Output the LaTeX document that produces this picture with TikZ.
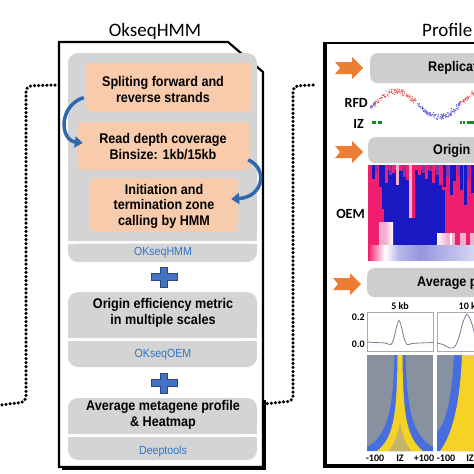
\documentclass[tikz,border=0pt]{standalone}
\usepackage{fontspec}
\setmainfont{Liberation Sans}
\newfontfamily\bxf[FakeStretch=0.9]{Liberation Sans}
\newfontfamily\calf{Carlito}
\usetikzlibrary{arrows.meta,calc}
\definecolor{boxgrey}{RGB}{212,212,212}
\definecolor{hdrgrey}{RGB}{206,206,206}
\definecolor{peach}{RGB}{248,203,173}
\definecolor{lblue}{RGB}{46,117,200}
\definecolor{arrblue}{RGB}{46,105,175}
\definecolor{plusfill}{RGB}{68,114,196}
\definecolor{plusedge}{RGB}{40,70,130}
\definecolor{orarrow}{RGB}{236,125,50}
\definecolor{rfdred}{RGB}{225,70,70}
\definecolor{rfdblue}{RGB}{70,70,205}
\definecolor{izgreen}{RGB}{20,140,40}
\definecolor{OB}{RGB}{25,25,195}
\definecolor{OP}{RGB}{240,30,110}
\definecolor{OU}{RGB}{130,50,175}
\definecolor{OL}{RGB}{245,175,205}
\definecolor{OV}{RGB}{185,185,235}
\definecolor{OM}{RGB}{150,150,225}
\definecolor{hmgrey}{RGB}{135,145,160}
\definecolor{hmblue}{RGB}{70,110,225}
\definecolor{hmyellow}{RGB}{245,210,35}
\definecolor{hmmix}{RGB}{195,180,105}
\definecolor{plotline}{RGB}{120,125,145}
\definecolor{plotframe}{RGB}{165,170,180}
\begin{document}
\begin{tikzpicture}[x=1pt,y=-1pt,
  boxtxt/.style={font=\bxf\bfseries\fontsize{14}{16}\selectfont, align=center, inner sep=0pt},
  bluetxt/.style={font=\bxf\fontsize{11.8}{13}\selectfont, text=lblue, inner sep=0pt},
  hdrtxt/.style={font=\bxf\bfseries\fontsize{14}{16}\selectfont, inner sep=0pt, anchor=west},
  lbl/.style={font=\calf\bfseries\fontsize{14}{16}\selectfont, inner sep=0pt, anchor=east},
  small/.style={font=\calf\bfseries\fontsize{10}{12}\selectfont, inner sep=0pt},
  orbox/.style={fill=peach, rounded corners=5pt, inner sep=0pt},
  hdr/.style={fill=hdrgrey, rounded corners=7pt, inner sep=0pt, anchor=north west},
  dotline/.style={line width=3.5pt, dash pattern=on 0pt off 4.1pt, line cap=round, rounded corners=5pt},
  curvarrow/.style={arrblue, line width=3.5pt, -{Triangle[length=8pt,width=11pt]}},
  orarr/.pic={\fill[orarrow] (0,-6) -- (17,-6) -- (17,-11) -- (28,0) -- (17,11) -- (17,6) -- (0,6) -- (5,0) -- cycle;},
  plussign/.pic={\filldraw[fill=plusfill, draw=plusedge, line width=0.8pt] (-3.4,-10) -- (3.4,-10) -- (3.4,-3.4) -- (13,-3.4) -- (13,3.4) -- (3.4,3.4) -- (3.4,10) -- (-3.4,10) -- (-3.4,3.4) -- (-13,3.4) -- (-13,-3.4) -- (-3.4,-3.4) -- cycle;}
]
\useasboundingbox (0,0) rectangle (474,474);
\clip (0,0) rectangle (474,474);

% ---------------- titles
\node[font=\calf\fontsize{19}{22}\selectfont, anchor=base, inner sep=0pt] (titleL) at (155,36) {OkseqHMM};
\node[font=\calf\fontsize{19}{22}\selectfont, anchor=base west, inner sep=0pt] (titleR) at (422,36) {Profile};

% ---------------- left panel frame
\draw[line width=1.5pt] (62,469) -- (265,469) -- (265,400);
\draw[line width=2.2pt, fill=white] (59,42) -- (228,42) -- (263,72) -- (263,467) -- (59,467) -- cycle;

% group 1
\fill[boxgrey, rounded corners=10pt] (68,53) rectangle (257,241);
\fill[boxgrey] (68,200) rectangle (257,241);
\fill[boxgrey, rounded corners=10pt] (68,243.5) rectangle (257,262);
\fill[boxgrey] (68,243.5) rectangle (257,252);
\node[bluetxt] (lab1) at (163,253) {OKseqHMM};

\node[orbox, minimum width=166pt, minimum height=49pt] (b1) at (169,87.5) {};
\node[boxtxt] (t1) at (163,89) {Spliting forward and\\reverse strands};
\node[orbox, minimum width=172pt, minimum height=48pt] (b2) at (164,146) {};
\node[boxtxt] (t2) at (163,147) {Read depth coverage\\Binsize: 1kb/15kb};
\node[orbox, minimum width=148pt, minimum height=54pt] (b3) at (164,205) {};
\node[boxtxt, font=\bxf\bfseries\fontsize{14}{15.5}\selectfont] (t3) at (164,206) {Initiation and\\termination zone\\calling by HMM};

\draw[curvarrow] ([shift={(-2,10)}]b1.west) .. controls (58,106) and (60,140) .. ([shift={(5,-3)}]b2.west);
\draw[curvarrow] ([shift={(-2,14)}]b2.east) .. controls (268,168) and (264,197) .. ([shift={(-7,-6)}]b3.east);

\pic at (164,277) {plussign};

% group 2
\fill[boxgrey, rounded corners=10pt] (68,292) rectangle (257,338);
\fill[boxgrey] (68,315) rectangle (257,338);
\fill[boxgrey, rounded corners=10pt] (68,341) rectangle (257,367);
\fill[boxgrey] (68,341) rectangle (257,352);
\node[boxtxt] (t4) at (163,313) {Origin efficiency metric\\in multiple scales};
\node[bluetxt] (lab2) at (163,355) {OKseqOEM};

\pic at (164,383) {plussign};

% group 3
\fill[boxgrey, rounded corners=10pt] (68,398) rectangle (257,434);
\fill[boxgrey] (68,416) rectangle (257,434);
\fill[boxgrey, rounded corners=10pt] (68,437) rectangle (257,460);
\fill[boxgrey] (68,437) rectangle (257,448);
\node[boxtxt] (t5) at (163,415) {Average metagene profile\\\& Heatmap};
\node[bluetxt] (lab3) at (163,451) {Deeptools};

% ---------------- dotted connectors
\coordinate (dL1) at (55,85);
\coordinate (dL2) at (0,405);
\coordinate (dR1) at (313,85);
\coordinate (dR2) at (264,404);
\draw[dotline] (dL1) -- (26,86) -- (26,402) -- (dL2);
\draw[dotline] (dR1) -- (293,86) -- (293,401) -- (dR2);

% ---------------- right panel frame
\draw[line width=2.2pt] (480,43) -- (324.5,43);
\draw[line width=4pt] (324.5,42) -- (324.5,467);
\draw[line width=3.5pt] (323,466) -- (480,466);

% headers
\node[hdr, minimum width=140pt, minimum height=30pt] (h1) at (370,53) {};
\node[hdrtxt] (h1t) at (428,68) {Replication};
\node[hdr, minimum width=140pt, minimum height=26pt] (h2) at (368,137) {};
\node[hdrtxt] (h2t) at (433,150.5) {Origin efficiency};
\node[hdr, minimum width=140pt, minimum height=29pt] (h3) at (367,268) {};
\node[hdrtxt] (h3t) at (417,283) {Average profile};

\pic at (335,68) {orarr};
\pic at (335,152) {orarr};
\pic at (333,284) {orarr};

% RFD scatter
\node[lbl] (rfd) at (368,103) {RFD};
\node[lbl] (iz) at (364,124) {IZ};
\pgfmathsetseed{12}
\foreach \i in {1,...,320}{
  \pgfmathsetmacro\xx{370+106*rnd}
  \pgfmathsetmacro\ss{cos(4.186*(\xx-396))}
  \pgfmathsetmacro\yy{104-13*\ss+2.2*rand+1.6*rand}
  \ifdim \ss pt > 0pt
    \fill[rfdred, opacity=0.85] (\xx,\yy) circle[radius=0.65pt];
  \else
    \fill[rfdblue, opacity=0.85] (\xx,\yy) circle[radius=0.65pt];
  \fi
}
\fill[izgreen] (372,121) rectangle (376,123.5);
\fill[izgreen] (378,121) rectangle (382,123.5);
\fill[izgreen] (460,121) rectangle (461.5,123.5);
\fill[izgreen] (463,121) rectangle (464.5,123.5);
\fill[izgreen] (467,121) rectangle (474,123.5);

% OEM heatmap
\node[lbl] (oem) at (365,214) {OEM};
\begin{scope}
\clip (368,165) rectangle (474,260);
\fill[OP] (368,165) rectangle (474,245);
\fill[OB] (384,170) rectangle (442,222);
\fill[OB] (393,222) rectangle (437,245);
\fill[OB] (437,190) rectangle (445,233);
\foreach \x/\c/\b in {371.5/OB/14, 375/OU/8, 378.5/OB/22, 382/OB/44,
  385/OP/18, 388.5/OU/10, 392/OP/8, 395.5/OL/20, 399/OP/6, 402.5/OU/12, 406/OP/15,
  409/OL/53, 411.5/OP/53, 418/OP/10, 421.5/OU/8, 425/OP/14, 428.5/OU/6, 432/OP/18,
  435.5/OU/10, 439/OP/20,
  442.5/OB/22, 446/OU/12, 449.5/OB/30, 453/OB/16, 456.5/OU/10, 460/OB/25,
  463.5/OB/40, 467/OU/14, 470.5/OB/28}
  {\fill[\c] (\x,165) rectangle ++(3.4,\b);}
\fill[OL] (379,222) rectangle (385,245);
\shade[left color=OL, right color=white] (385,222) rectangle (393,245);
\shade[left color=white, right color=OL] (437,233) rectangle (447,245);
\fill[OL] (447,233) rectangle (474,245);
\fill[OP] (455,233) rectangle (460,245);
\fill[white] (450,233) rectangle (452,245);
\fill[OP] (466,233) rectangle (470,245);
\shade[left color=OP, right color=white] (368,245) rectangle (385,260);
\shade[left color=white, right color=OV] (385,245) rectangle (398,260);
\shade[left color=OV, right color=OM] (398,245) rectangle (420,260);
\shade[left color=OM, right color=OV!60!white] (420,245) rectangle (474,260);
\end{scope}

% line plots
\node[small] (k5) at (400,306) {5 kb};
\node[small] (k10) at (470,306) {10 kb};
\node[small, anchor=east] (y02) at (365,317) {0.2};
\node[small, anchor=east] (y00) at (365,344) {0.0};
\draw[plotframe, line width=0.6pt] (367,312) rectangle (433,351);
\draw[plotframe, line width=0.6pt] (437,312) rectangle (503,351);
\draw[plotline, line width=0.8pt] plot[smooth] coordinates {(367,342) (375,342.5) (385,343) (391,344.5) (394,338) (396.5,327) (399,320.5) (401.5,327) (404,338) (407,344.5) (412,343.5) (420,343) (433,342.5)};
\draw[plotline, line width=0.8pt] plot[smooth] coordinates {(437,343) (443,344.5) (450,348) (455,346.5) (459,337) (463,322) (467,314.5) (471,321) (475,335) (479,344)};

% bottom heatmaps
\begin{scope}
\clip (367,355) rectangle (433,451);
\fill[hmgrey] (367,355) rectangle (433,451);
\fill[hmblue] (394.5,355) .. controls (393,412) and (387,436) .. (367,447) -- (367,451) -- (433,451) -- (433,447) .. controls (413,436) and (407,412) .. (405.5,355) -- cycle;
\fill[hmyellow] (397.5,355) .. controls (397,418) and (393,438) .. (377,451) -- (423,451) .. controls (407,438) and (403,418) .. (402.5,355) -- cycle;
\fill[hmmix] (400,422) .. controls (398,436) and (393,445) .. (389,451) -- (411,451) .. controls (407,445) and (402,436) .. (400,422) -- cycle;
\end{scope}
\begin{scope}
\clip (437,355) rectangle (503,451);
\fill[hmgrey] (437,355) rectangle (503,451);
\fill[hmblue] (454,355) .. controls (452,400) and (445,425) .. (437,432) -- (437,451) -- (503,451) -- (503,432) .. controls (493,425) and (486,400) .. (484,355) -- cycle;
\fill[hmyellow] (462,355) .. controls (460,405) and (452,435) .. (440,451) -- (498,451) .. controls (486,435) and (478,405) .. (476,355) -- cycle;
\end{scope}
\node[small] (xa) at (375,458) {-100};
\node[small] (xb) at (400,458) {IZ};
\node[small] (xc) at (424,458) {+100};
\node[small] (xd) at (446,458) {-100};
\node[small] (xe) at (470,458) {IZ};
\end{tikzpicture}
\end{document}
